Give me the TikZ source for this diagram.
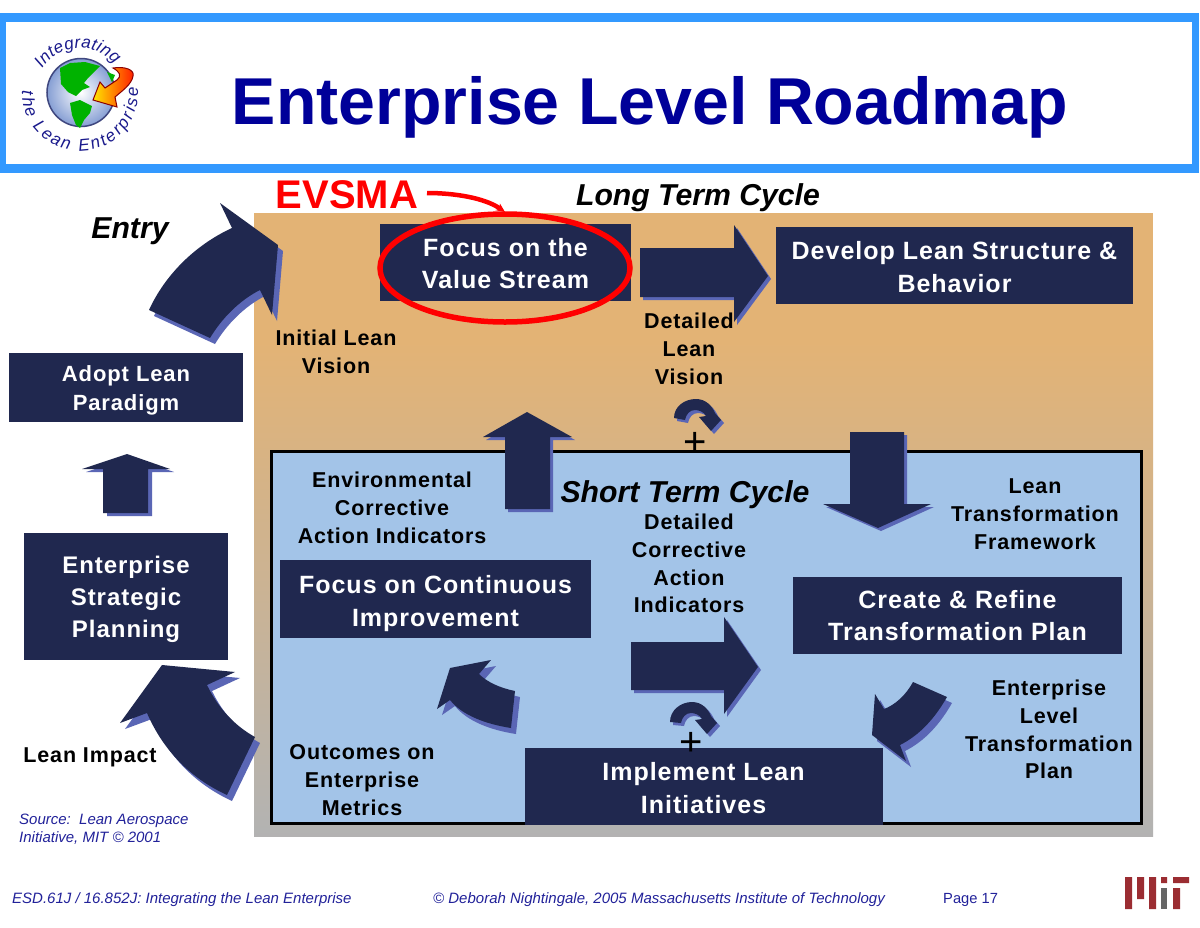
\documentclass[tikz,border=0pt]{standalone}
\usepackage{fontspec}
\setmainfont{Liberation Sans}
\newfontfamily\trackbold[LetterSpace=4]{Liberation Sans Bold}
\newfontfamily\plainbold{Liberation Sans Bold}
\newfontfamily\plainbi{Liberation Sans Bold Italic}
\newfontfamily\plainit{Liberation Sans Italic}
\usetikzlibrary{decorations.text,arrows.meta}
\definecolor{navy}{HTML}{20284F}
\definecolor{shade}{HTML}{5A66B5}
\definecolor{tan}{HTML}{E3B375}
\definecolor{sky}{HTML}{A3C4E8}
\definecolor{frameblue}{HTML}{3399FF}
\definecolor{titleblue}{HTML}{000099}
\definecolor{mitred}{HTML}{9B2D32}
\definecolor{footblue}{HTML}{22229A}
\definecolor{logoblue}{HTML}{1A1A8C}
\tikzset{
  boxfill/.style={fill=navy,draw=none},
  boxtext/.style={text=white,inner sep=0pt,align=center,font=\trackbold\fontsize{25}{32}\selectfont},
  lab/.style={align=center,inner sep=0pt,font=\trackbold\fontsize{21.5}{27.8}\selectfont},
  cycle/.style={inner sep=0pt,font=\plainbi\fontsize{30.2}{34}\selectfont},
  foot/.style={anchor=west,inner sep=0pt,text=footblue,font=\plainit\fontsize{15}{18}\selectfont},
  arrowbody/.style={fill=navy,draw=none},
  arrowshade/.style={fill=shade,draw=none},
  logotext/.style={decorate,decoration={text along path,text={#1},text align={fit to path},
     text color=logoblue}},
}
% \bigarrow{offset x}{offset y}{path}
\newcommand{\bigarrow}[3]{%
  \fill[arrowshade,shift={(#1pt,-#2pt)}] #3;
  \fill[arrowbody] #3;}
\begin{document}
\begin{tikzpicture}[x=1pt,y=-1pt]
\useasboundingbox (0,0) rectangle (1200,927);
\fill[white] (0,0) rectangle (1200,927);
% header
\fill[frameblue] (0,13) rectangle (1199,173);
\fill[white] (6,22) rectangle (1192,164);
\node[inner sep=0pt,text=titleblue,font=\plainbold\fontsize{66.3}{70}\selectfont] (title) at (650,107) {Enterprise Level Roadmap};
% logo
\shade[draw=shade!70!black,line width=1.5pt,inner color=white,outer color=sky!60!shade] (81,92.5) circle[radius=34];
\fill[green!70!black] (60,68) -- (70,63) -- (85,62) -- (100,66) -- (94,72) -- (88,78) -- (84,83) -- (90,87) -- (82,90) -- (76,96) -- (68,92) -- (61,84) -- cycle;
\fill[green!70!black] (70,103) -- (80,100) -- (92,106) -- (90,113) -- (84,120) -- (80,128) -- (76,125) -- (72,115) -- cycle;
\fill[green!70!black] (107,72) -- (115,75) -- (112,82) -- cycle;
\shade[left color=yellow!80!orange,right color=red!80!orange,draw=red!55!black,line width=1pt] (113,68) .. controls (125,66) and (135,70) .. (133,76) .. controls (132,84) and (122,91) .. (115,97) -- (117,107) -- (93,100) -- (100,82) -- (105,88) -- (117,80) .. controls (122,76) and (120,72) .. (113,68) -- cycle;
\path[postaction={logotext={|\plainit\fontsize{17}{17}\selectfont|Integrating}}]
  plot[domain=147:40,samples=40] ({80+45*cos(\x)},{93-45*sin(\x)});
\path[postaction={logotext={|\plainit\fontsize{17}{17}\selectfont|the Lean Enterprise}}]
  plot[domain=178:366,samples=60] ({80+58*cos(\x)},{93-58*sin(\x)});
% background panels
\fill[tan] (254,213) rectangle (1153,340);
\shade[top color=tan,bottom color=black!30] (254,340) rectangle (1153,836);
\draw[fill=sky,draw=black,line width=3pt] (271,451) rectangle (1141,823);
% boxes
\fill[boxfill] (9,353) rectangle (243,422);
\node[boxtext,font=\trackbold\fontsize{22}{29}\selectfont] (adopt) at (126,390) {Adopt Lean\\Paradigm};
\fill[boxfill] (24,533) rectangle (228,660);
\node[boxtext,font=\trackbold\fontsize{24}{32}\selectfont] (strategic) at (126,599.5) {Enterprise\\Strategic\\Planning};
\fill[boxfill] (380,224) rectangle (631,301);
\node[boxtext] (focus) at (505.5,264) {Focus on the\\Value Stream};
\fill[boxfill] (776,227) rectangle (1133,304);
\node[boxtext,font=\trackbold\fontsize{25}{33}\selectfont] (develop) at (954.5,267.5) {Develop Lean Structure \&\\Behavior};
\fill[boxfill] (280,560) rectangle (591,638);
\node[boxtext,font=\trackbold\fontsize{25}{33}\selectfont] (contin) at (435.5,603.5) {Focus on Continuous\\Improvement};
\fill[boxfill] (793,577) rectangle (1122,654);
\node[boxtext] (create) at (957.5,616) {Create \& Refine\\Transformation Plan};
\fill[boxfill] (525,748) rectangle (883,825);
\node[boxtext,font=\trackbold\fontsize{25}{33}\selectfont] (implement) at (703.5,788) {Implement Lean\\Initiatives};
% block arrows
\bigarrow{5}{6}{(220,203) -- (232,228) .. controls (195,245) and (165,275) .. (149,310) -- (210,338) .. controls (222,318) and (240,300) .. (260,290) -- (272,315) -- (278,245) -- cycle}
\bigarrow{4}{3}{(127,454) -- (170,469) -- (148,469) -- (148,513) -- (103,513) -- (103,469) -- (82,469) -- cycle}
\bigarrow{5}{6}{(162,665) -- (235,672) -- (207,685) .. controls (218,708) and (235,726) .. (255,737) -- (227,795) .. controls (190,778) and (163,750) .. (147,713) -- (120,723) -- cycle}
\bigarrow{3}{3}{(640,248) -- (734,248) -- (734,225) -- (768,276) -- (734,322) -- (734,297) -- (640,297) -- cycle}
\bigarrow{3}{3}{(527,412) -- (572,437) -- (550,437) -- (550,509) -- (505,509) -- (505,437) -- (483,437) -- cycle}
\bigarrow{3}{3}{(850,432) -- (904,432) -- (904,504) -- (931,504) -- (878,528) -- (823,504) -- (850,504) -- cycle}
\bigarrow{3}{3}{(631,642) -- (724,642) -- (724,617) -- (758,667) -- (724,714) -- (724,690) -- (631,690) -- cycle}
\bigarrow{5}{6}{(450,668) -- (491,660) -- (479,674) .. controls (487,682) and (500,688) .. (515,691) -- (511,728) .. controls (485,724) and (462,715) .. (450,700) -- (437,709) -- cycle}
\bigarrow{5}{6}{(913,682) -- (947,697) .. controls (935,718) and (920,735) .. (900,745) -- (906,761) -- (872,735) -- (875,694) -- (884,709) .. controls (895,705) and (906,695) .. (913,682) -- cycle}
% small turning arrows
\bigarrow{3}{3}{(674,418) .. controls (674,406) and (685,399) .. (696,399) .. controls (706,399) and (712,406) .. (715,413) -- (721,420) -- (711,431) -- (699,417) -- (706,416) .. controls (704,412) and (699,410) .. (695,410) .. controls (690,410) and (686,414) .. (685,420) -- cycle}
\bigarrow{3}{3}{(670,722) .. controls (670,710) and (681,702) .. (692,702) .. controls (702,702) and (708,709) .. (711,716) -- (717,723) -- (707,734) -- (695,720) -- (702,719) .. controls (700,715) and (695,713) .. (691,713) .. controls (686,713) and (682,717) .. (681,723) -- cycle}
\node[inner sep=0pt,font=\fontsize{40}{40}\selectfont] (plusa) at (695,444) {+};
\node[inner sep=0pt,font=\fontsize{40}{40}\selectfont] (plusb) at (691,744) {+};
% ellipse and EVSMA
\node[inner sep=0pt,text=red,font=\plainbold\fontsize{40}{44}\selectfont] (evsma) at (347,195) {EVSMA};
\coordinate (ringtop) at (505,212);
\draw[red,line width=4.5pt,-{Stealth[length=9pt,width=8pt]}] (427,193) .. controls (455,193) and (485,198) .. (ringtop);
\draw[red,line width=5.5pt] (505,268) ellipse[x radius=125,y radius=54];
% labels
\node[cycle] (longcycle) at (698,198) {Long Term Cycle};
\node[cycle] (entry) at (130,231) {Entry};
\node[cycle] (shortcycle) at (685,495) {Short Term Cycle};
\node[lab] (l1) at (336,351.5) {Initial Lean\\Vision};
\node[lab] (l2) at (689,349) {Detailed\\Lean\\Vision};
\node[lab] (l3) at (392,508) {Environmental\\Corrective\\Action Indicators};
\node[lab] (l4) at (689,563.5) {Detailed\\Corrective\\Action\\Indicators};
\node[lab] (l5) at (1035,514) {Lean\\Transformation\\Framework};
\node[lab] (l6) at (1049,729.5) {Enterprise\\Level\\Transformation\\Plan};
\node[lab] (l7) at (362,780) {Outcomes on\\Enterprise\\Metrics};
\node[lab] (l8) at (90,757) {Lean Impact};
% footer
\node[foot,align=left] (source) at (19,829) {Source:\ \ Lean Aerospace\\Initiative, MIT © 2001};
\node[foot] (f1) at (12,900) {ESD.61J / 16.852J: Integrating the Lean Enterprise};
\node[foot] (f2) at (433,900) {© Deborah Nightingale, 2005 Massachusetts Institute of Technology};
\node[foot,font=\fontsize{14.7}{18}\selectfont] (f3) at (943,900) {Page 17};
% MIT logo
\fill[mitred] (1125,877) rectangle (1132,909) (1137,877) rectangle (1144,899) (1149,877) rectangle (1156,909) (1161,877) rectangle (1167,883) (1173,877) rectangle (1189,883) (1173,888) rectangle (1180,909);
\fill[black!60] (1161,888) rectangle (1167,909);
\end{tikzpicture}
\end{document}
